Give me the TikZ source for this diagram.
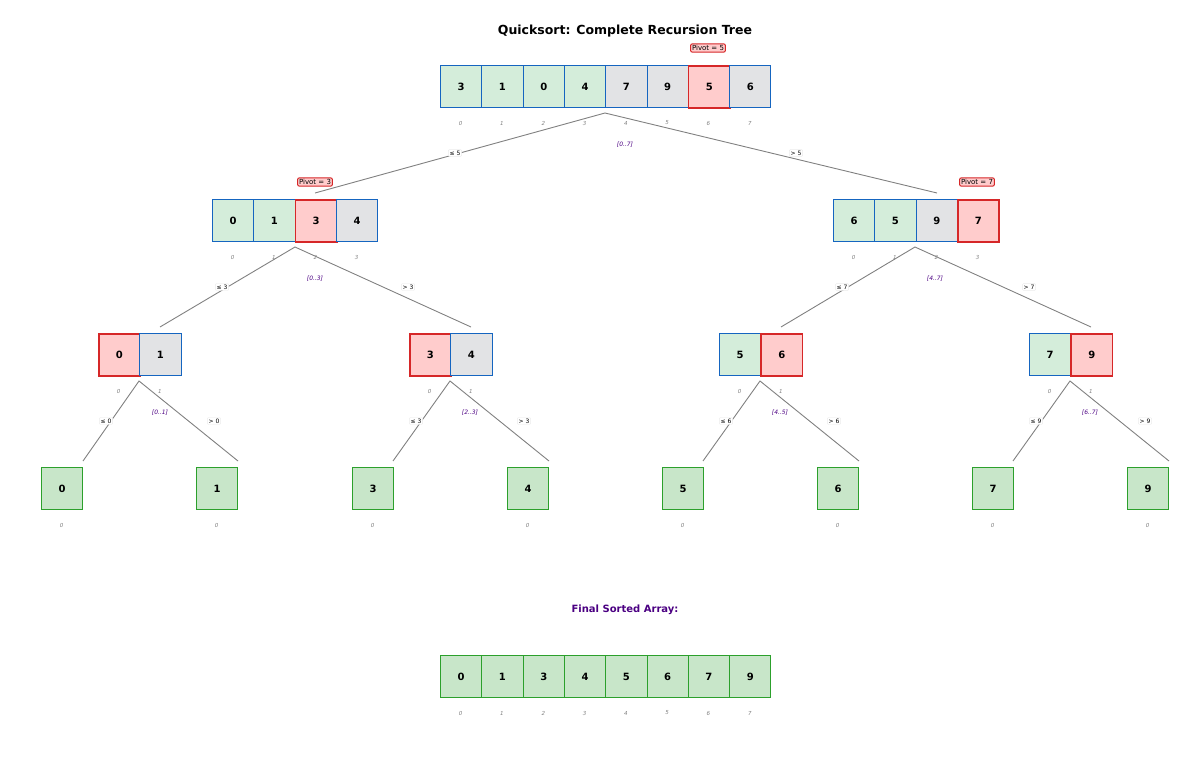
\documentclass[tikz,border=0pt]{standalone}
\usepackage{fontspec}
\setmainfont{DejaVu Sans}
\definecolor{cblue}{HTML}{1565C0}
\definecolor{lgreen}{HTML}{D4EDDA}
\definecolor{lgray}{HTML}{E2E3E5}
\definecolor{lred}{HTML}{FFCCCC}
\definecolor{cred}{HTML}{D62728}
\definecolor{leafg}{HTML}{C8E6C9}
\definecolor{gborder}{HTML}{2CA02C}
\definecolor{purp}{HTML}{4B0082}
\begin{document}
\begin{tikzpicture}[x=1pt,y=-1pt,
  cell/.style={draw=cblue,line width=1pt,minimum width=41.3pt,minimum height=42pt,inner sep=0pt,anchor=north west,font=\fontsize{10}{12}\selectfont\bfseries},
  le/.style={cell,fill=lgreen},
  gt/.style={cell,fill=lgray},
  pv/.style={cell,fill=lred,draw=cred,line width=1.6pt},
  lf/.style={cell,fill=leafg,draw=gborder},
  idx/.style={font=\fontsize{5.5}{6}\selectfont\itshape,text=gray},
  edge/.style={draw=gray,line width=0.9pt},
  elab/.style={fill=white,draw=black!8,rounded corners=1pt,inner sep=1.2pt,font=\fontsize{6}{7}\selectfont},
  rng/.style={font=\fontsize{6}{7}\selectfont\itshape,text=purp},
  plab/.style={fill=lred,draw=cred,line width=1pt,rounded corners=2pt,inner sep=1.5pt,font=\fontsize{7}{8}\selectfont}]
\useasboundingbox (0,0) rectangle (1200,762);
% arr macro: prefix, x0, y0, list val/style
\newcommand{\myarr}[4]{%
  \foreach \v/\s [count=\i from 0] in {#4}{%
    \node[\s] (#1\i) at ({#2+41.3*\i},#3) {\v};
    \node[idx] (#1i\i) at ({#2+20.65+41.3*\i},{#3+58}) {\i};
  }}
\node[font=\fontsize{12.5}{14}\selectfont\bfseries] (title) at (625,31) {Quicksort: Complete Recursion Tree};
% level 0
\myarr{a}{440}{65}{3/le,1/le,0/le,4/le,7/gt,9/gt,5/pv,6/gt}
\node[plab] (p0) at (708,48) {Pivot = 5};
% level 1
\myarr{b}{212}{199}{0/le,1/le,3/pv,4/gt}
\node[plab] (p1) at (315,182) {Pivot = 3};
\myarr{c}{833}{199}{6/le,5/le,9/gt,7/pv}
\node[plab] (p2) at (977,182) {Pivot = 7};
% level 2
\myarr{d}{98}{333}{0/pv,1/gt}
\myarr{e}{409}{333}{3/pv,4/gt}
\myarr{f}{719}{333}{5/le,6/pv}
\myarr{g}{1029}{333}{7/le,9/pv}
% leaves
\myarr{h}{41}{467}{0/lf}
\myarr{k}{196}{467}{1/lf}
\myarr{l}{352}{467}{3/lf}
\myarr{m}{507}{467}{4/lf}
\myarr{n}{662}{467}{5/lf}
\myarr{o}{817}{467}{6/lf}
\myarr{q}{972}{467}{7/lf}
\myarr{r}{1127}{467}{9/lf}
% final
\node[font=\fontsize{10}{12}\selectfont\bfseries,text=purp] (ftitle) at (625,610) {Final Sorted Array:};
\myarr{s}{440}{655}{0/lf,1/lf,3/lf,4/lf,5/lf,6/lf,7/lf,9/lf}
% tree connectors
\coordinate (A) at (605,113); \coordinate (AL) at (315,193); \coordinate (AR) at (937,193);
\coordinate (B) at (295,247); \coordinate (BL) at (160,327); \coordinate (BR) at (471,327);
\coordinate (C) at (915,247); \coordinate (CL) at (781,327); \coordinate (CR) at (1091,327);
\coordinate (D) at (139,381); \coordinate (DL) at (83,461); \coordinate (DR) at (238,461);
\coordinate (E) at (450,381); \coordinate (EL) at (393,461); \coordinate (ER) at (549,461);
\coordinate (F) at (760,381); \coordinate (FL) at (703,461); \coordinate (FR) at (859,461);
\coordinate (G) at (1070,381); \coordinate (GL) at (1013,461); \coordinate (GR) at (1169,461);
\foreach \p in {A,B,C,D,E,F,G}{\draw[edge] (\p L) -- (\p) -- (\p R);}
% labels
\node[elab] (l1) at (455,153) {≤ 5}; \node[elab] (r1) at (796,153) {> 5}; \node[rng] (g1) at (625,145) {[0..7]};
\node[elab] (l2) at (222,287) {≤ 3}; \node[elab] (r2) at (408,287) {> 3}; \node[rng] (g2) at (315,279) {[0..3]};
\node[elab] (l3) at (842,287) {≤ 7}; \node[elab] (r3) at (1029,287) {> 7}; \node[rng] (g3) at (935,279) {[4..7]};
\node[elab] (l4) at (106,421) {≤ 0}; \node[elab] (r4) at (214,421) {> 0}; \node[rng] (g4) at (160,413) {[0..1]};
\node[elab] (l5) at (416,421) {≤ 3}; \node[elab] (r5) at (524,421) {> 3}; \node[rng] (g5) at (470,413) {[2..3]};
\node[elab] (l6) at (726,421) {≤ 6}; \node[elab] (r6) at (834,421) {> 6}; \node[rng] (g6) at (780,413) {[4..5]};
\node[elab] (l7) at (1036,421) {≤ 9}; \node[elab] (r7) at (1145,421) {> 9}; \node[rng] (g7) at (1090,413) {[6..7]};
\end{tikzpicture}
\end{document}
